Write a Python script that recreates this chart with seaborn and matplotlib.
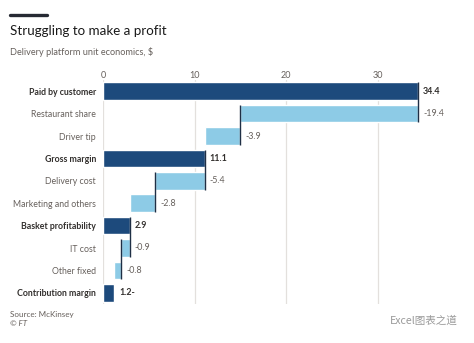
import numpy as np
import pandas as pd
import matplotlib
matplotlib.use("Agg")
import matplotlib.pyplot as plt
import seaborn as sns

categories = ["Paid by customer", "Restaurant share", "Driver tip", "Gross margin",
              "Delivery cost", "Marketing and others", "Basket profitability",
              "IT cost", "Other fixed", "Contribution margin"]
values = [34.4, -19.4, -3.9, 11.1, -5.4, -2.8, 2.9, -0.9, -0.8, 1.2]
is_total = [True, False, False, True, False, False, True, False, False, True]
value_labels = ["34.4", "-19.4", "-3.9", "11.1", "-5.4", "-2.8", "2.9", "-0.9", "-0.8", "1.2-"]
ticks = [0, 10, 20, 30]

DARK = "#1d4a7c"
LIGHT = "#8dcbe6"
TXT = "#33302e"
GREY = "#66605c"

# waterfall geometry from data
starts, ends = [], []
running = 0.0
for v, t in zip(values, is_total):
    if t:
        s, e = 0.0, v
        running = v
    else:
        s, e = running, running + v
        running = running + v
    starts.append(s)
    ends.append(e)

df = pd.DataFrame({"cat": categories, "value": values, "total": is_total,
                   "start": starts, "end": ends})
df["left"] = df[["start", "end"]].min(axis=1)
df["width"] = (df["end"] - df["start"]).abs()

sns.set_theme(style="white")
plt.rcParams["font.family"] = ["Lato", "DejaVu Sans"]

fig = plt.figure(figsize=(4.74, 3.43), dpi=100)
ax = fig.add_axes([103 / 474, 1 - 304 / 343, 348 / 474, 224 / 343])

tot = df[df["total"]]
chg = df[~df["total"]]
sns.barplot(data=tot, x="width", y="cat", order=categories, color=DARK,
            saturation=1, width=0.79, left=tot["left"].to_numpy(), ax=ax, zorder=3)
sns.barplot(data=chg, x="width", y="cat", order=categories, color=LIGHT,
            saturation=1, width=0.79, left=chg["left"].to_numpy(), ax=ax, zorder=3)

# connectors (only into following change rows)
for i in range(len(categories) - 1):
    if not is_total[i + 1]:
        ax.vlines(ends[i], i - 0.395, i + 1 + 0.395, color="#1f2f45", lw=1.0, zorder=4)

ax.set_xlim(0, 38)
ax.set_ylim(len(categories) - 0.5, -0.5)
ax.set_xticks(ticks)
ax.xaxis.tick_top()
ax.tick_params(axis="x", length=0, pad=0, labelsize=6.5, labelcolor=GREY)
ax.tick_params(axis="y", length=0, pad=5)
ax.set_xlabel("")
ax.set_ylabel("")
for sp in ax.spines.values():
    sp.set_visible(False)
ax.grid(axis="x", color="#e3e0dd", lw=0.9, zorder=0)
ax.grid(axis="y", visible=False)
ax.set_axisbelow(True)

ax.set_yticks(range(len(categories)))
ax.set_yticklabels(categories)
for lab, t in zip(ax.get_yticklabels(), is_total):
    lab.set_fontsize(6.3)
    if t:
        lab.set_fontweight("bold")
        lab.set_color(TXT)
    else:
        lab.set_color(GREY)

for i, row in df.iterrows():
    xr = max(row["start"], row["end"])
    ax.text(xr + 0.55, i, value_labels[i], va="center", ha="left",
            fontsize=6.4, color=TXT if row["total"] else GREY,
            fontweight="bold" if row["total"] else "normal", zorder=5)

# header
fig.add_artist(plt.Line2D([10 / 474, 47 / 474], [1 - 14.5 / 343, 1 - 14.5 / 343],
                          color="#262a33", lw=2.4))
fig.text(10 / 474, 1 - 31 / 343, "Struggling to make a profit", fontsize=9.6,
         color="#1a1a1a", va="center", ha="left")
fig.text(10 / 474, 1 - 52 / 343, "Delivery platform unit economics, $", fontsize=6.6,
         color=GREY, va="center", ha="left")

# footer
fig.text(10 / 474, 1 - 314 / 343, "Source: McKinsey", fontsize=5.8, color=GREY,
         va="center", ha="left")
fig.text(10 / 474, 1 - 324 / 343, "© FT", fontsize=5.8, color=GREY, style="italic",
         va="center", ha="left")
fig.text(458 / 474, 1 - 321 / 343, "Excel图表之道", fontsize=7.6, color="#9a9a9a",
         va="center", ha="right", family=["Noto Sans CJK SC", "DejaVu Sans"])

fig.savefig("out.png", dpi=100, facecolor="white")
